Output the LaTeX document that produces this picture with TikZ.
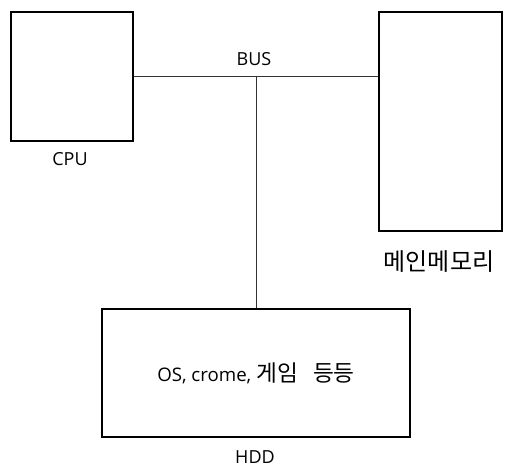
\documentclass[tikz,border=0pt]{standalone}
\usepackage{fontspec}
\setmainfont{Open Sans}
\newfontfamily\krfont{Noto Sans CJK KR}
\usepackage{tikz}
\newcommand{\krbig}{\krfont\fontsize{18pt}{20pt}\selectfont}
\newcommand{\krmid}{\krfont\fontsize{17pt}{19pt}\selectfont}

\begin{document}
\begin{tikzpicture}[x=0.75pt, y=-0.75pt,
    box/.style={draw, line width=0.9pt, inner sep=0pt},
    lbl/.style={font=\fontsize{13.5pt}{15pt}\selectfont},
    wire/.style={line width=0.7pt, color=black!80}]
    \useasboundingbox (0,0) rectangle (522,474);
    \node[box, minimum width=91.5pt, minimum height=96.75pt] (cpu) at (72,76.5) {};
    \node[box, minimum width=92.25pt, minimum height=164.25pt] (mem) at (440.5,121.5) {};
    \node[box, minimum width=231pt, minimum height=96pt, lbl] (hdd) at (256,373)
        {\fontsize{14pt}{16pt}\selectfont OS, crome,\hspace{4pt}{\krmid 게임\hspace{11pt}등등}};
    \node[lbl] (cpulabel) at (70,159) {CPU};
    \node[lbl] (memlabel) at (439,262) {\krbig 메인메모리};
    \node[lbl] (hddlabel) at (255,457) {HDD};
    \coordinate (busjoint) at (cpu.east -| hdd.north);
    \draw[wire] (cpu.east) -- (cpu.east -| mem.west);
    \draw[wire] (busjoint) -- (hdd.north);
    \node[lbl] (buslabel) at (254,59) {BUS};
\end{tikzpicture}
\end{document}
